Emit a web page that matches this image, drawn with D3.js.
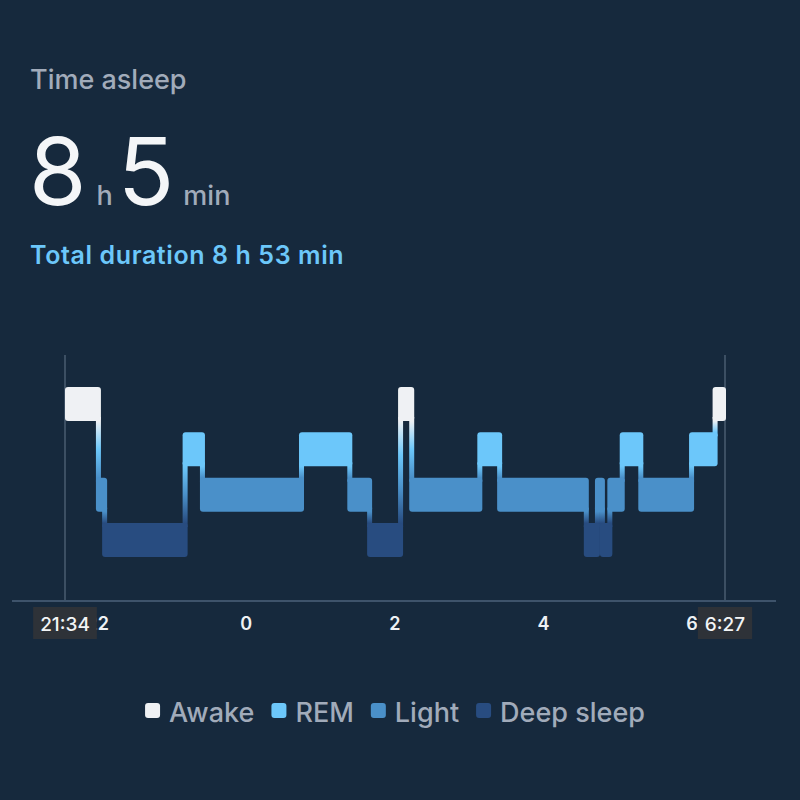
<!DOCTYPE html>
<html>
<head>
<meta charset="utf-8">
<script src="https://cdn.jsdelivr.net/npm/d3@7"></script>
<style>
  html, body { margin: 0; padding: 0; background: #16293d; }
  svg { display: block; font-family: Inter, "Noto Sans", sans-serif; }
</style>
</head>
<body>
<svg id="chart" width="800" height="800"></svg>
<script>
// sleep stages, top to bottom
const stages = ['Awake', 'REM', 'Light', 'Deep']
const legendLabels = ['Awake', 'REM', 'Light', 'Deep sleep']
const stageColors = ['#eff1f4', '#6cc7fa', '#4a90c9', '#284c80']

// hypnogram: stage of each segment and the clock time it starts
const segStage = ['Awake', 'Light', 'Deep', 'REM', 'Light', 'REM', 'Light', 'Deep', 'Awake', 'Light',
                  'REM', 'Light', 'Deep', 'Light', 'Deep', 'Light', 'REM', 'Light', 'REM', 'Awake']
const segStart = ['21:34', '22:01', '22:06', '23:11', '23:25', '00:45', '01:24', '01:40', '02:05', '02:14',
                  '03:09', '03:25', '04:35', '04:44', '04:48', '04:54', '05:04', '05:19', '06:00', '06:19']
const sleepEnd = '06:27'

const tickHours = [22, 0, 2, 4, 6]
const tickLabels = ['22', '0', '2', '4', '6']

const BG = '#16293d'
const GREY = '#a1abba'

const svg = d3.select('#chart')
svg.append('rect').attr('width', 800).attr('height', 800).attr('fill', BG)

// header texts
svg.append('text').attr('x', 30).attr('y', 89)
  .attr('font-size', 27).attr('font-weight', 500).attr('fill', GREY)
  .text('Time asleep')

const big = svg.append('text').attr('x', 29).attr('y', 205).attr('fill', '#f4f6f8')
big.append('tspan').attr('font-size', 93).attr('font-weight', 400).text('8')
big.append('tspan').attr('font-size', 27).attr('font-weight', 500).attr('fill', GREY).attr('dx', 10).text('h')
big.append('tspan').attr('font-size', 93).attr('font-weight', 400).attr('dx', 5).text('5')
big.append('tspan').attr('font-size', 27).attr('font-weight', 500).attr('fill', GREY).attr('dx', 9).text('min')

svg.append('text').attr('x', 30).attr('y', 264)
  .attr('font-size', 25).attr('font-weight', 600).attr('fill', '#6cc7fa')
  .attr('letter-spacing', 0.6)
  .text('Total duration 8 h 53 min')

// time scale
const parseClock = s => {
  const [h, m] = s.split(':').map(Number)
  return new Date(2024, 0, h >= 12 ? 1 : 2, h, m)
}
const t0 = parseClock(segStart[0])
const t1 = parseClock(sleepEnd)
const clockFmt = d3.timeFormat('%-H:%M')

const x = d3.scaleTime().domain([t0, t1]).range([65, 725])
const y = d3.scalePoint().domain(stages).range([404, 540])
const bandH = 34
const half = 2.5
const colorOf = d3.scaleOrdinal().domain(stages).range(stageColors)

const segs = segStage.map((s, i) => ({
  stage: s,
  start: parseClock(segStart[i]),
  end: i < segStage.length - 1 ? parseClock(segStart[i + 1]) : t1
}))

// guide lines and baseline
svg.selectAll('.guide')
  .data([t0, t1])
  .enter()
  .append('line')
  .attr('x1', d => x(d)).attr('x2', d => x(d))
  .attr('y1', 355).attr('y2', 601)
  .attr('stroke', '#4a5c70').attr('stroke-width', 1.5)

svg.append('line')
  .attr('x1', 12).attr('x2', 776).attr('y1', 601).attr('y2', 601)
  .attr('stroke', '#3e536b').attr('stroke-width', 2)

// connectors between consecutive segments, with a vertical gradient
const defs = svg.append('defs')
const joins = []
for (let i = 1; i < segs.length; i++) {
  const a = stages.indexOf(segs[i - 1].stage)
  const b = stages.indexOf(segs[i].stage)
  const top = Math.min(a, b)
  const bot = Math.max(a, b)
  const id = 'join' + i
  const grad = defs.append('linearGradient').attr('id', id)
    .attr('gradientUnits', 'userSpaceOnUse')
    .attr('x1', 0).attr('x2', 0)
    .attr('y1', y(stages[top]) + bandH / 2).attr('y2', y(stages[bot]) - bandH / 2)
  for (let k = top; k <= bot; k++) {
    grad.append('stop')
      .attr('offset', bot === top ? 0 : (k - top) / (bot - top))
      .attr('stop-color', stageColors[k])
  }
  joins.push({ t: segs[i].start, top: top, bot: bot, id: id })
}

svg.selectAll('.join')
  .data(joins)
  .enter()
  .append('rect')
  .attr('x', d => x(d.t) - half)
  .attr('width', half * 2)
  .attr('y', d => y(stages[d.top]) + bandH / 2 - 4)
  .attr('height', d => y(stages[d.bot]) - y(stages[d.top]) - bandH + 8)
  .attr('fill', d => 'url(#' + d.id + ')')

// stage blocks
svg.selectAll('.seg')
  .data(segs)
  .enter()
  .append('rect')
  .attr('x', (d, i) => i === 0 ? x(d.start) : x(d.start) - half)
  .attr('width', (d, i) => {
    const left = i === 0 ? x(d.start) : x(d.start) - half
    const right = i === segs.length - 1 ? x(d.end) + 1 : x(d.end) + half
    return right - left
  })
  .attr('y', d => y(d.stage) - bandH / 2)
  .attr('height', bandH)
  .attr('rx', 3)
  .attr('fill', d => colorOf(d.stage))

// hour axis
const tickDates = tickHours.map(h => new Date(2024, 0, h >= 12 ? 1 : 2, h, 0))
const axis = svg.append('g')
  .attr('transform', 'translate(0,601)')
  .call(d3.axisBottom(x).tickValues(tickDates).tickFormat((d, i) => tickLabels[i]).tickSize(0).tickPadding(16))
axis.select('.domain').remove()
axis.selectAll('text')
  .attr('font-family', 'Inter, "Noto Sans", sans-serif')
  .attr('font-size', 18).attr('font-weight', 600).attr('fill', '#eef1f4')

// start / end time flags
const flags = [t0, t1]
flags.forEach(t => {
  const g = svg.append('g')
  const txt = g.append('text')
    .attr('x', x(t)).attr('y', 631)
    .attr('text-anchor', 'middle')
    .attr('font-size', 19).attr('font-weight', 500).attr('fill', '#f2f4f6')
    .text(clockFmt(t))
  const w = txt.node().getComputedTextLength() + 14
  g.insert('rect', 'text')
    .attr('x', x(t) - w / 2).attr('y', 607)
    .attr('width', w).attr('height', 32)
    .attr('fill', '#2e3238')
})

// legend
const legend = svg.append('g')
let lx = 0
legendLabels.forEach((label, i) => {
  const item = legend.append('g').attr('transform', 'translate(' + lx + ',0)')
  item.append('rect')
    .attr('x', 0).attr('y', 703).attr('width', 15).attr('height', 15).attr('rx', 3)
    .attr('fill', stageColors[i])
  const t = item.append('text')
    .attr('x', 24).attr('y', 722)
    .attr('font-size', 27).attr('font-weight', 500).attr('fill', GREY)
    .text(label)
  lx += 24 + t.node().getComputedTextLength() + 17
})
const legendW = lx - 17
legend.attr('transform', 'translate(' + (395 - legendW / 2) + ',0)')
</script>
</body>
</html>
